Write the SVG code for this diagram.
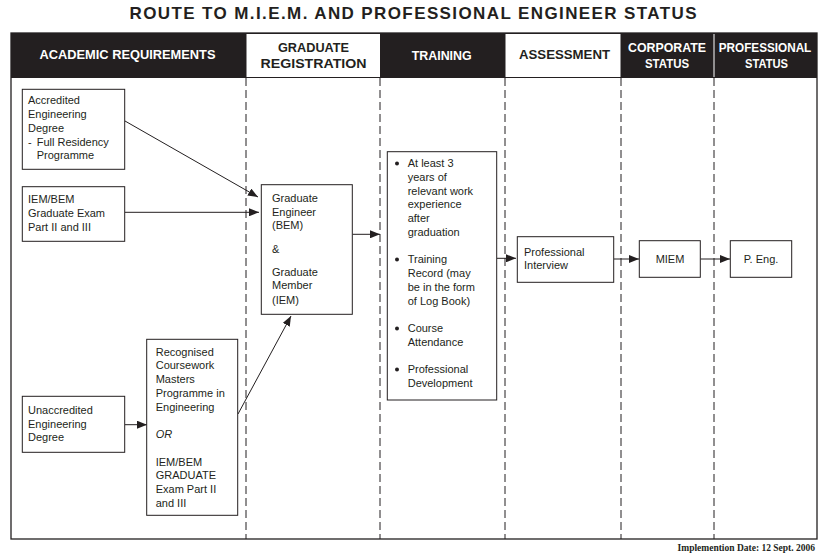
<svg xmlns="http://www.w3.org/2000/svg" width="821" height="559" viewBox="0 0 821 559">
<defs>
<style>
.t{font-family:"Liberation Sans",Arial,sans-serif;font-size:11px;fill:#231f20}
.h{font-family:"Liberation Sans",Arial,sans-serif;font-size:13.5px;font-weight:bold;text-anchor:middle}
.w{fill:#fff}
.k{fill:#231f20}
.box{fill:#fff;stroke:#231f20;stroke-width:1}
.dash{stroke:#231f20;stroke-width:1;stroke-dasharray:8 4;fill:none}
.con{stroke:#231f20;stroke-width:1;fill:none;marker-end:url(#ah)}
</style>
<marker id="ah" markerWidth="10" markerHeight="8" refX="10" refY="4" orient="auto" markerUnits="userSpaceOnUse">
<path d="M0,0 L10,4 L0,8 Z" fill="#231f20"/>
</marker>
</defs>
<rect width="821" height="559" fill="#fff"/>
<text x="413" y="18.5" font-family="Liberation Sans,Arial,sans-serif" font-size="17" font-weight="bold" fill="#231f20" text-anchor="middle" textLength="567" lengthAdjust="spacing">ROUTE TO M.I.E.M. AND PROFESSIONAL ENGINEER STATUS</text>

<g id="frame">
<rect x="11" y="33" width="806" height="506" fill="none" stroke="#231f20" stroke-width="1.3"/>
<rect x="11" y="33" width="806" height="45" fill="#231f20"/>
<rect x="246.5" y="34" width="133.5" height="43" fill="#fff"/>
<rect x="505.5" y="34" width="115" height="43" fill="#fff"/>
<line x1="714" y1="34" x2="714" y2="77" stroke="#fff" stroke-width="1"/>
<line class="dash" x1="246" y1="78" x2="246" y2="539"/>
<line class="dash" x1="380" y1="78" x2="380" y2="539"/>
<line class="dash" x1="505" y1="78" x2="505" y2="539"/>
<line class="dash" x1="621" y1="78" x2="621" y2="539"/>
<line class="dash" x1="714" y1="78" x2="714" y2="539"/>
</g>

<g id="headers">
<text class="h w" x="127.5" y="59" textLength="176" lengthAdjust="spacingAndGlyphs">ACADEMIC REQUIREMENTS</text>
<text class="h k" x="313.5" y="52" textLength="71" lengthAdjust="spacingAndGlyphs">GRADUATE</text>
<text class="h k" x="313.5" y="67.5" textLength="106" lengthAdjust="spacingAndGlyphs">REGISTRATION</text>
<text class="h w" x="441.7" y="59.5" textLength="60" lengthAdjust="spacingAndGlyphs">TRAINING</text>
<text class="h k" x="564.5" y="59" textLength="91" lengthAdjust="spacingAndGlyphs">ASSESSMENT</text>
<text class="h w" x="667" y="52" textLength="78" lengthAdjust="spacingAndGlyphs">CORPORATE</text>
<text class="h w" x="667" y="67.5" textLength="44" lengthAdjust="spacingAndGlyphs">STATUS</text>
<text class="h w" transform="translate(765,52) scale(0.87,1)">PROFESSIONAL</text>
<text class="h w" x="766.5" y="67.5" textLength="43" lengthAdjust="spacingAndGlyphs">STATUS</text>
</g>

<g id="connectors">
<line class="con" x1="125" y1="121" x2="258" y2="197"/>
<line class="con" x1="125" y1="212.3" x2="259" y2="212.3"/>
<line class="con" x1="352.5" y1="234.3" x2="380" y2="234.3"/>
<line class="con" x1="125" y1="424.7" x2="147" y2="424.7"/>
<line class="con" x1="238" y1="414" x2="291" y2="316"/>
<line class="con" x1="497" y1="258.3" x2="516" y2="258.3"/>
<line class="con" x1="614" y1="259" x2="639" y2="259"/>
<line class="con" x1="700.5" y1="259" x2="730" y2="259"/>
</g>

<g id="accredited">
<rect class="box" x="22.3" y="89.3" width="102.4" height="80"/>
<text class="t" x="28" y="104">Accredited</text>
<text class="t" x="28" y="118">Engineering</text>
<text class="t" x="28" y="131.7">Degree</text>
<text class="t" x="28" y="145.5">-</text>
<text class="t" x="36.7" y="145.5">Full Residency</text>
<text class="t" x="36.7" y="159.3">Programme</text>
</g>

<g id="iembem">
<rect class="box" x="22.3" y="186.7" width="102.4" height="54.6"/>
<text class="t" x="28" y="203.3">IEM/BEM</text>
<text class="t" x="28" y="217.3">Graduate Exam</text>
<text class="t" x="28" y="230.7">Part II and III</text>
</g>

<g id="graduate">
<rect class="box" x="261.3" y="184.7" width="91" height="129.6"/>
<text class="t" x="272" y="201.7">Graduate</text>
<text class="t" x="272" y="215.7">Engineer</text>
<text class="t" x="272" y="229.3">(BEM)</text>
<text class="t" x="272" y="252.7">&amp;</text>
<text class="t" x="272" y="275.7">Graduate</text>
<text class="t" x="272" y="289.3">Member</text>
<text class="t" x="272" y="304">(IEM)</text>
</g>

<g id="unaccredited">
<rect class="box" x="22.3" y="396.3" width="102.4" height="56"/>
<text class="t" x="28" y="414">Unaccredited</text>
<text class="t" x="28" y="428.3">Engineering</text>
<text class="t" x="28" y="441">Degree</text>
</g>

<g id="recognised">
<rect class="box" x="146.7" y="339.3" width="91" height="176"/>
<text class="t" x="155.7" y="356">Recognised</text>
<text class="t" x="155.7" y="369.3">Coursework</text>
<text class="t" x="155.7" y="383.3">Masters</text>
<text class="t" x="155.7" y="397.3">Programme in</text>
<text class="t" x="155.7" y="411.3">Engineering</text>
<text class="t" x="155.7" y="438.3" font-style="italic">OR</text>
<text class="t" x="155.7" y="466">IEM/BEM</text>
<text class="t" x="155.7" y="479.3">GRADUATE</text>
<text class="t" x="155.7" y="493.3">Exam Part II</text>
<text class="t" x="155.7" y="507.3">and III</text>
</g>

<g id="training">
<rect class="box" x="387.3" y="151.7" width="109.4" height="248.3"/>
<g fill="#231f20">
<circle cx="397" cy="163.5" r="2"/>
<circle cx="397" cy="259.5" r="2"/>
<circle cx="397" cy="328.5" r="2"/>
<circle cx="397" cy="369.5" r="2"/>
</g>
<text class="t" x="407.7" y="167.3">At least 3</text>
<text class="t" x="407.7" y="181.3">years of</text>
<text class="t" x="407.7" y="195">relevant work</text>
<text class="t" x="407.7" y="208.3">experience</text>
<text class="t" x="407.7" y="222.3">after</text>
<text class="t" x="407.7" y="236">graduation</text>
<text class="t" x="407.7" y="263.3">Training</text>
<text class="t" x="407.7" y="277">Record (may</text>
<text class="t" x="407.7" y="291">be in the form</text>
<text class="t" x="407.7" y="305">of Log Book)</text>
<text class="t" x="407.7" y="332.3">Course</text>
<text class="t" x="407.7" y="346">Attendance</text>
<text class="t" x="407.7" y="373.3">Professional</text>
<text class="t" x="407.7" y="387">Development</text>
</g>

<g id="interview">
<rect class="box" x="517.3" y="236.7" width="96.4" height="45.6"/>
<text class="t" x="524" y="255.5">Professional</text>
<text class="t" x="524" y="269.3">Interview</text>
</g>

<g id="miem">
<rect class="box" x="639.3" y="240.7" width="61" height="36.6"/>
<text class="t" x="670" y="263.3" font-size="12" text-anchor="middle">MIEM</text>
</g>

<g id="peng">
<rect class="box" x="730.3" y="240.7" width="61.4" height="36.6"/>
<text class="t" x="761" y="263.3" font-size="12" text-anchor="middle">P. Eng.</text>
</g>

<text x="815" y="551" font-family="Liberation Serif,Times New Roman,serif" font-size="9.5" font-weight="bold" fill="#231f20" text-anchor="end">Implemention Date: 12 Sept. 2006</text>
</svg>
